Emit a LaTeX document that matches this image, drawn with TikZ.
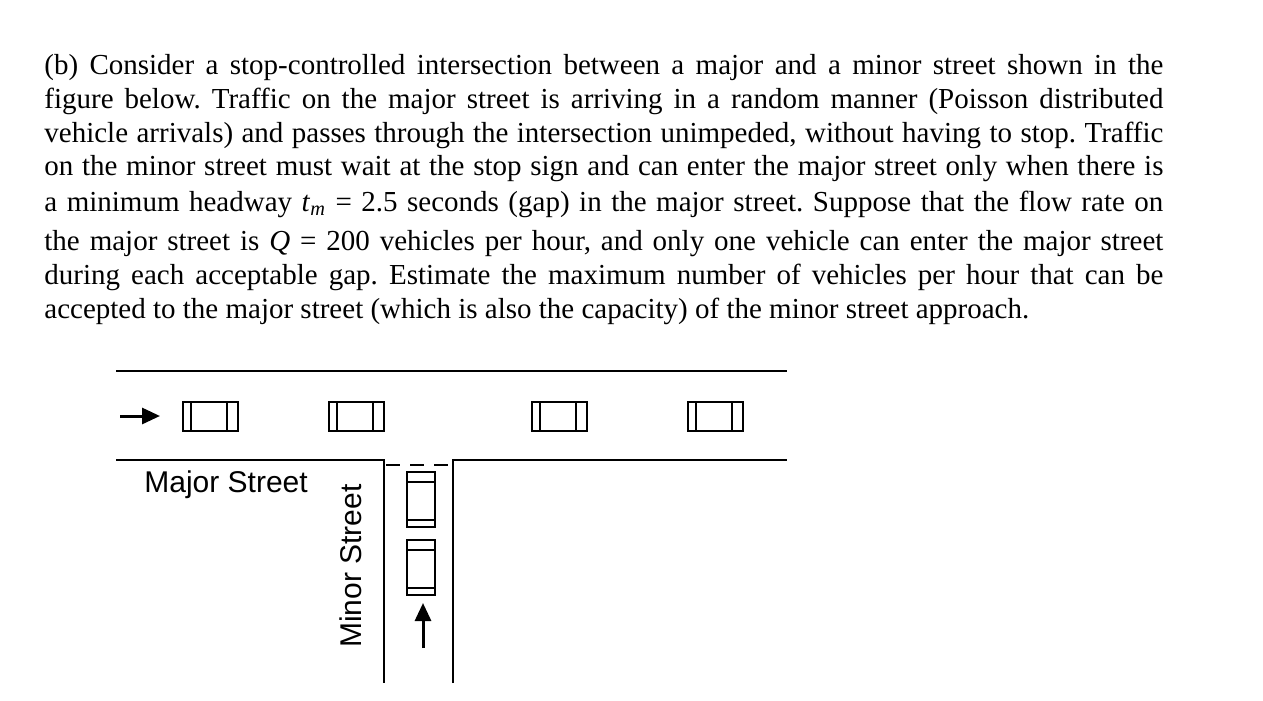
\documentclass[tikz,border=0pt]{standalone}
\usepackage{fontspec}
\setmainfont{Liberation Serif}
\setsansfont{Liberation Sans}
\usetikzlibrary{arrows.meta,calc}
\frenchspacing
\begin{document}
\begin{tikzpicture}[x=0.5pt,y=-0.5pt,
  road/.style={line width=1pt},
  car/.style={draw,line width=1pt,inner sep=0pt},
  hcar/.style={car,minimum width=27.5pt,minimum height=14.5pt},
  vcar/.style={car,minimum width=14pt,minimum height=27.5pt},
  txt/.style={anchor=base west,inner sep=0pt,font=\fontsize{14.5pt}{17pt}\selectfont},
  lbl/.style={inner sep=0pt,font=\sffamily\fontsize{15pt}{17pt}\selectfont},
  arr/.style={line width=1.5pt,-{Triangle[length=9pt,width=8pt]}}]
\useasboundingbox (0,0) rectangle (1263,701);
\def\W{559.5pt}
\node[txt] (l1) at (44,75) {\makebox[\W][s]{(b) Consider a stop-controlled intersection between a major and a minor street shown in the}};
\node[txt] (l2) at (44,109) {\makebox[\W][s]{figure below. Traffic on the major street is arriving in a random manner (Poisson distributed}};
\node[txt] (l3) at (44,142) {\makebox[\W][s]{vehicle arrivals) and passes through the intersection unimpeded, without having to stop. Traffic}};
\node[txt] (l4) at (44,176) {\makebox[\W][s]{on the minor street must wait at the stop sign and can enter the major street only when there is}};
\node[txt] (l5) at (44,211) {\makebox[\W][s]{a minimum headway \textit{t}\textsubscript{\textit{m}} = 2.5 seconds (gap) in the major street. Suppose that the flow rate on}};
\node[txt] (l6) at (44,250) {\makebox[\W][s]{the major street is \textit{Q} = 200 vehicles per hour, and only one vehicle can enter the major street}};
\node[txt] (l7) at (44,284) {\makebox[\W][s]{during each acceptable gap. Estimate the maximum number of vehicles per hour that can be}};
\node[txt] (l8) at (44,318) {accepted to the major street (which is also the capacity) of the minor street approach.};
% roads
\draw[road] (116,371) -- (787,371);
\draw[road] (116,460) -- (384,460) -- (384,683);
\draw[road] (453,683) -- (453,460) -- (787,460);
\draw[road,dash pattern=on 7pt off 5pt] (386,465) -- (451,465);
% horizontal cars
\foreach \n/\x in {h1/210.5,h2/356.5,h3/559.5,h4/715.5}{
  \node[hcar] (\n) at (\x,416.5) {};
  \draw[line width=1pt] (\x-19.5,402) -- (\x-19.5,431);
  \draw[line width=1pt] (\x+16.5,402) -- (\x+16.5,431);
}
\foreach \n/\y in {v1/499.5,v2/567.5}{
  \node[vcar] (\n) at (421,\y) {};
  \draw[line width=1pt] (407,\y-17.5) -- (435,\y-17.5);
  \draw[line width=1pt] (407,\y+20.5) -- (435,\y+20.5);
}
\coordinate (a1) at (120,416); \coordinate (a2) at (160,416);
\draw[arr] (a1) -- (a2);
\coordinate (b1) at (423,648); \coordinate (b2) at (423,603);
\draw[arr] (b1) -- (b2);
\node[lbl,anchor=base west] (maj) at (144,492) {Major Street};
\node[lbl,rotate=90,anchor=base] (min) at (361,566) {Minor Street};
\end{tikzpicture}
\end{document}
